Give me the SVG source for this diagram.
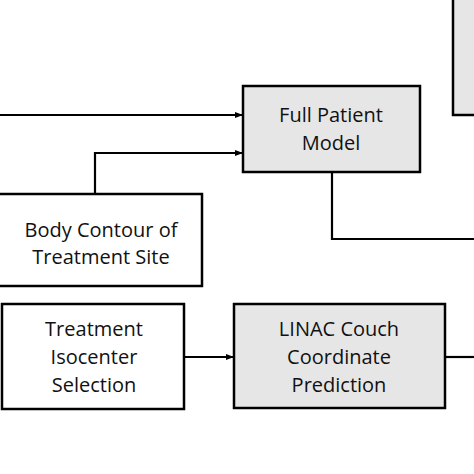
<svg xmlns="http://www.w3.org/2000/svg" width="474" height="474" viewBox="0 0 474 474">
<style>
.box{stroke:#000;stroke-width:2.5}
.w{fill:#fff}
.g{fill:#e6e6e6}
.c{fill:none;stroke:#000;stroke-width:2.2}
text{font-family:"Open Sans","Noto Sans",sans-serif;font-size:20px;fill:#111;text-anchor:middle}
</style>
<defs>
<marker id="ah" markerWidth="8" markerHeight="8" refX="7" refY="4" orient="auto" markerUnits="userSpaceOnUse">
<path d="M0,1 L8,4 L0,7 Z" fill="#000"/>
</marker>
</defs>
<rect width="474" height="474" fill="#fff"/>
<g id="connectors">
<path class="c" d="M0,115 H242" marker-end="url(#ah)"/>
<path class="c" d="M95,194 V153 H242" marker-end="url(#ah)"/>
<path class="c" d="M332,172 V239 H474"/>
<path class="c" d="M184,357 H233" marker-end="url(#ah)"/>
<path class="c" d="M445,357 H474"/>
</g>
<g id="top-right">
<rect class="box g" x="453" y="-3" width="30" height="118"/>
</g>
<g id="full-patient-model">
<rect class="box g" x="243" y="86" width="177" height="86"/>
<text x="331" y="122">Full Patient</text>
<text x="331" y="150">Model</text>
</g>
<g id="body-contour">
<rect class="box w" x="-3" y="194" width="205" height="92"/>
<text x="101" y="237">Body Contour of</text>
<text x="101" y="264">Treatment Site</text>
</g>
<g id="isocenter">
<rect class="box w" x="2" y="304" width="182" height="105"/>
<text x="94" y="336">Treatment</text>
<text x="94" y="364">Isocenter</text>
<text x="94" y="392">Selection</text>
</g>
<g id="linac">
<rect class="box g" x="234" y="304" width="211" height="104"/>
<text x="339" y="336">LINAC Couch</text>
<text x="339" y="364">Coordinate</text>
<text x="339" y="392">Prediction</text>
</g>
</svg>
